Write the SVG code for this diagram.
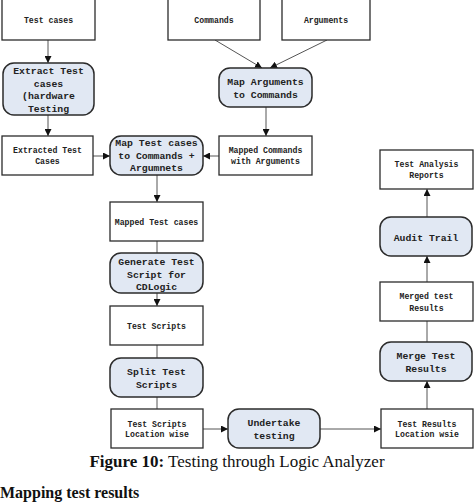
<svg xmlns="http://www.w3.org/2000/svg" width="474" height="503" viewBox="0 0 474 503">
<style>
.box{fill:#fff;stroke:#2b2b2b;stroke-width:1.3}
.rbox{fill:#e1e8f3;stroke:#2b2b2b;stroke-width:1.5}
.t{font-family:"Liberation Mono","Courier New",monospace;font-weight:bold;font-size:8.2px;fill:#222;text-anchor:middle}
.rt{font-family:"Liberation Mono","Courier New",monospace;font-weight:bold;font-size:9.8px;fill:#222;text-anchor:middle}
.c{stroke:#555;stroke-width:1;fill:none}
.cap{font-family:"Liberation Serif","Times New Roman",serif;fill:#111}
</style>
<defs>
<marker id="ah" viewBox="0 0 10 10" refX="10" refY="5" markerWidth="7" markerHeight="7" markerUnits="userSpaceOnUse" orient="auto">
<path d="M0,0 L10,5 L0,10 z" fill="#111"/>
</marker>
</defs>
<g id="connectors">
<line class="c" x1="48" y1="40" x2="48" y2="63" marker-end="url(#ah)"/>
<line class="c" x1="48" y1="115" x2="48" y2="136" marker-end="url(#ah)"/>
<line class="c" x1="215" y1="40" x2="262" y2="68" marker-end="url(#ah)"/>
<line class="c" x1="327" y1="40" x2="270" y2="68" marker-end="url(#ah)"/>
<line class="c" x1="266" y1="107" x2="266" y2="136" marker-end="url(#ah)"/>
<line class="c" x1="93" y1="156" x2="110" y2="156" marker-end="url(#ah)"/>
<line class="c" x1="219" y1="156" x2="203" y2="156" marker-end="url(#ah)"/>
<line class="c" x1="157" y1="175" x2="157" y2="202" marker-end="url(#ah)"/>
<line class="c" x1="157" y1="241" x2="157" y2="253"/>
<line class="c" x1="157" y1="293" x2="157" y2="306" marker-end="url(#ah)"/>
<line class="c" x1="157" y1="345" x2="157" y2="358"/>
<line class="c" x1="157" y1="397" x2="157" y2="409"/>
<line class="c" x1="203" y1="429" x2="228" y2="429" marker-end="url(#ah)"/>
<line class="c" x1="320" y1="429" x2="381" y2="429" marker-end="url(#ah)"/>
<line class="c" x1="427" y1="409" x2="427" y2="381" marker-end="url(#ah)"/>
<line class="c" x1="427" y1="342" x2="427" y2="321"/>
<line class="c" x1="427" y1="282" x2="427" y2="256" marker-end="url(#ah)"/>
<line class="c" x1="427" y1="217" x2="427" y2="189" marker-end="url(#ah)"/>
</g>
<g id="test-cases"><rect class="box" x="2" y="-1" width="93" height="41"/><text class="t" x="48.5" y="23">Test cases</text></g>
<g id="commands"><rect class="box" x="168" y="-1" width="92" height="41"/><text class="t" x="214" y="23">Commands</text></g>
<g id="arguments"><rect class="box" x="282" y="-1" width="88" height="41"/><text class="t" x="326" y="23">Arguments</text></g>
<g id="extract"><rect class="rbox" x="3" y="63" width="91" height="52" rx="11"/><text class="rt" x="48.5" y="74">Extract Test</text><text class="rt" x="48.5" y="86.5">cases</text><text class="rt" x="48.5" y="99">(hardware</text><text class="rt" x="48.5" y="111.5">Testing</text></g>
<g id="map-args"><rect class="rbox" x="219" y="68" width="93" height="39" rx="11"/><text class="rt" x="265.5" y="85">Map Arguments</text><text class="rt" x="265.5" y="98">to Commands</text></g>
<g id="extracted"><rect class="box" x="2" y="136" width="91" height="39"/><text class="t" x="47.5" y="153">Extracted Test</text><text class="t" x="47.5" y="163.5">Cases</text></g>
<g id="map-test"><rect class="rbox" x="110" y="136" width="93" height="39" rx="11"/><text class="rt" x="156.5" y="146">Map Test cases</text><text class="rt" x="156.5" y="158.5">to Commands +</text><text class="rt" x="156.5" y="171">Argumnets</text></g>
<g id="mapped-commands"><rect class="box" x="219" y="136" width="93" height="39"/><text class="t" x="265.5" y="153">Mapped Commands</text><text class="t" x="265.5" y="163.5">with Arguments</text></g>
<g id="mapped-test"><rect class="box" x="110" y="202" width="93" height="39"/><text class="t" x="156.5" y="225">Mapped Test cases</text></g>
<g id="generate"><rect class="rbox" x="110" y="253" width="93" height="40" rx="11"/><text class="rt" x="156.5" y="265">Generate Test</text><text class="rt" x="156.5" y="277.5">Script for</text><text class="rt" x="156.5" y="290">CDLogic</text></g>
<g id="test-scripts"><rect class="box" x="110" y="306" width="93" height="39"/><text class="t" x="156.5" y="328.5">Test Scripts</text></g>
<g id="split"><rect class="rbox" x="110" y="358" width="93" height="39" rx="11"/><text class="rt" x="156.5" y="375">Split Test</text><text class="rt" x="156.5" y="387.5">Scripts</text></g>
<g id="scripts-location"><rect class="box" x="111" y="409" width="92" height="39"/><text class="t" x="157" y="426.5">Test Scripts</text><text class="t" x="157" y="437">Location wise</text></g>
<g id="undertake"><rect class="rbox" x="228" y="409" width="92" height="39" rx="11"/><text class="rt" x="274" y="426">Undertake</text><text class="rt" x="274" y="438.5">testing</text></g>
<g id="results-location"><rect class="box" x="381" y="409" width="92" height="39"/><text class="t" x="427" y="426.5">Test Results</text><text class="t" x="427" y="437">Location wsie</text></g>
<g id="merge"><rect class="rbox" x="380" y="342" width="92" height="39" rx="11"/><text class="rt" x="426" y="359">Merge Test</text><text class="rt" x="426" y="371.5">Results</text></g>
<g id="merged"><rect class="box" x="380" y="282" width="93" height="39"/><text class="t" x="426.5" y="299">Merged test</text><text class="t" x="426.5" y="310.5">Results</text></g>
<g id="audit"><rect class="rbox" x="380" y="217" width="92" height="39" rx="11"/><text class="rt" x="426" y="241">Audit Trail</text></g>
<g id="reports"><rect class="box" x="380" y="150" width="93" height="39"/><text class="t" x="426.5" y="167">Test Analysis</text><text class="t" x="426.5" y="178">Reports</text></g>
<text class="cap" x="237" y="467" font-size="17" text-anchor="middle"><tspan font-weight="bold">Figure 10:</tspan> Testing through Logic Analyzer</text>
<text class="cap" x="0" y="498" font-size="16" font-weight="bold">Mapping test results</text>
</svg>
